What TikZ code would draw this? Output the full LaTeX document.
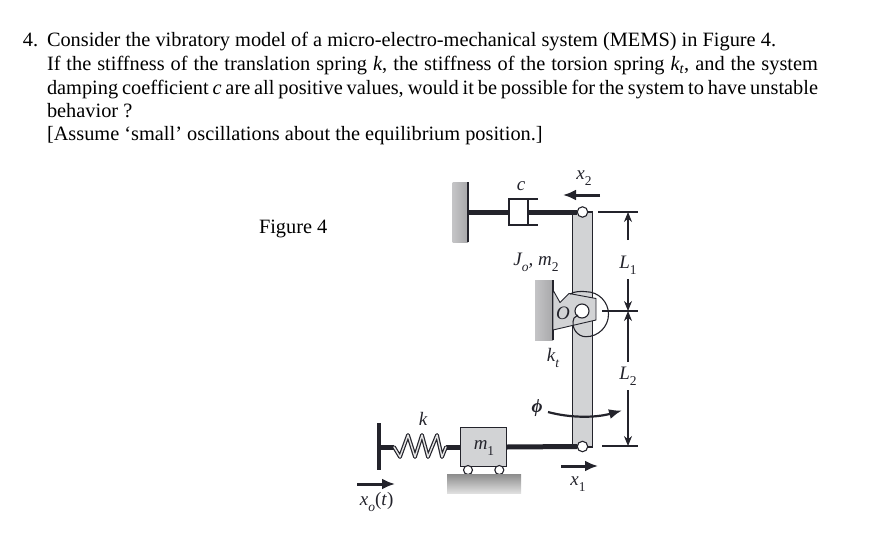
\documentclass[tikz,border=0pt]{standalone}
\usepackage{fontspec}
\setmainfont{Liberation Serif}
\usetikzlibrary{arrows.meta}
\definecolor{barfill}{HTML}{D2D3D5}
\definecolor{ink}{HTML}{23232B}
\definecolor{wallA}{HTML}{C4C4C6}
\definecolor{wallM}{HTML}{DADADC}
\definecolor{wallB}{HTML}{A8A8AA}
\tikzset{
  textline/.style={anchor=base west,inner sep=0pt,outer sep=0pt,font=\fontsize{20.35}{24}\selectfont,text=black},
  figlabel/.style={inner sep=0pt,outer sep=0pt,font=\fontsize{19}{22}\selectfont\itshape,text=ink},
  heavy/.style={line width=5pt,draw=ink},
  thinpart/.style={line width=1.1pt,draw=ink},
  wallshade/.style={left color=wallA,middle color=wallM,right color=wallB,draw=none},
  motion/.style={line width=3pt,draw=ink,-{Latex[length=13pt,width=11pt]}},
  dimline/.style={line width=1.1pt,draw=ink},
  dimarrow/.style={line width=1.1pt,draw=ink,-{Stealth[length=10pt,width=8pt]}},
  pin/.style={circle,draw=ink,line width=1.1pt,fill=white,minimum size=#1,inner sep=0pt,outer sep=0pt},
}
\newcommand{\lo}[1]{\raisebox{-0.3em}{\fontsize{13.5}{14}\selectfont #1}}
\begin{document}
\begin{tikzpicture}[x=1pt,y=-1pt]
\useasboundingbox (0,0) rectangle (886,533);
% question text
\node[textline] (t0) at (23,46.6) {4.};
\node[textline] (t1) at (47,46.6) {Consider the vibratory model of a micro-electro-mechanical system (MEMS) in Figure 4.};
\node[textline] (t2) at (47,70) {\makebox[771pt][s]{If the stiffness of the translation spring \textit{k}, the stiffness of the torsion spring \textit{k\textsubscript{t}}, and the system}};
\node[textline] (t3) at (47,94) {\makebox[771pt][s]{damping coefficient \textit{c} are all positive values, would it be possible for the system to have unstable}};
\node[textline] (t4) at (47,117) {behavior ?};
\node[textline] (t5) at (47,140.7) {[Assume ‘small’ oscillations about the equilibrium position.]};
\node[textline] (fig) at (259,233.5) {Figure 4};
% bar
\path[fill=barfill,draw=ink,line width=1.1pt] (572.7,212) rectangle (592.7,447);
% named points
\coordinate (topwall) at (468,212);
\coordinate (dampL) at (509,212);
\coordinate (dampP) at (528,212);
\coordinate (botwall) at (379,447);
\coordinate (springA) at (394,447);
\coordinate (springB) at (446,447);
% upper wall and damper
\shade[wallshade] (452.7,182) rectangle (468,242);
\draw[line width=1.8pt,draw=ink] (468,182) -- (468,242);
\node[pin=10.5pt] (p2) at (582.5,212) {};
\draw[heavy] (topwall) -- (dampL);
\draw[heavy] (dampP) -- (p2.west);
\draw[thinpart] (538,199) -- (509,199) -- (509,225) -- (538,225);
\draw[thinpart] (528,199) -- (528,225);
% torsion pivot
\shade[wallshade] (535,280) rectangle (553,340);
\draw[line width=1.8pt,draw=ink] (553,280) -- (553,340);
\path[fill=barfill,draw=ink,line width=.9pt] (553,290) -- (560,302.5) -- (569,293.5) -- (596,298.5) -- (596,320) -- (553,330) -- cycle;
\node[pin=14pt] (hub) at (582,311) {};
\draw[line width=1.1pt,draw=ink] (570,294) .. controls (574,291.5) and (581,291) .. (586,291.7)
  arc[start angle=-90,end angle=90,radius=22.5] .. controls (578,337) and (570,328) .. (574,318) -- (578,315);
% lower part
\draw[line width=3.8pt,draw=ink] (379,423) -- (379,470);
\node[pin=10.5pt] (p1) at (582.5,446.5) {};
\path[fill=barfill,draw=ink,line width=1.1pt] (460.7,427.7) rectangle (506.7,466.7);
\node[figlabel] (m1) at (484,448) {m\lo{\textup{1}}};
\coordinate (mL) at (460.7,447);
\coordinate (mR) at (506.7,447);
\draw[heavy] (botwall) -- (springA);
\draw[heavy] (springB) -- (mL);
\draw[heavy] (mR) -- (p1.west);
\foreach \w/\c in {3.8pt/ink,1.4pt/gray!20}
  \draw[line width=\w,draw=\c,line join=round,line cap=round] (springA) -- (400,457) -- (408,435) -- (415,457) -- (422,435) -- (428,457) -- (437,435) -- (442,457) -- (springB);
\node[pin=9pt] (w1) at (468,470) {};
\node[pin=9pt] (w2) at (499.3,470) {};
\shade[top color=gray!90,bottom color=gray!25] (447,474) rectangle (521,493);
% motion arrows
\coordinate (x2a) at (600,195); \coordinate (x2b) at (563,195);
\coordinate (x1a) at (561,466); \coordinate (x1b) at (598,466);
\coordinate (xoa) at (357,484); \coordinate (xob) at (395,484);
\draw[motion] (x2a) -- (x2b);
\draw[motion] (x1a) -- (x1b);
\draw[motion] (xoa) -- (xob);
\coordinate (phia) at (548,412); \coordinate (phib) at (622,410.5);
\draw[line width=2.2pt,draw=ink,-{Latex[length=13pt,width=10pt]}] (phia) .. controls (570,418) and (595,418) .. (phib);
% dimensions
\coordinate (d0a) at (598,212); \coordinate (d0b) at (638,212);
\coordinate (d1a) at (602,311); \coordinate (d1b) at (638,311);
\coordinate (d2a) at (602,446); \coordinate (d2b) at (638,446);
\draw[dimline] (d0a) -- (d0b);
\draw[dimline] (d1a) -- (d1b);
\draw[dimline] (d2a) -- (d2b);
\coordinate (L1top) at (628,212); \coordinate (L1mid) at (628,311); \coordinate (L2bot) at (628,446);
\draw[dimarrow] (628,240) -- (L1top);
\draw[dimarrow] (628,279) -- (L1mid);
\draw[dimarrow] (628,362) -- (L1mid);
\draw[dimarrow] (628,390) -- (L2bot);
% labels
\node[figlabel] (lc) at (521,186) {c};
\node[figlabel] (lx2) at (584,178) {x\lo{\textup{2}}};
\node[figlabel] (lJ) at (536,262) {J\lo{o}, m\lo{\textup{2}}};
\node[figlabel] (lL1) at (628,265) {L\lo{\textup{1}}};
\node[figlabel] (lL2) at (628,376) {L\lo{\textup{2}}};
\node[figlabel] (lO) at (563,313) {O};
\node[figlabel] (lkt) at (553,358) {k\lo{t}};
\node[figlabel] (lphi) at (537,408) {\bfseries ϕ};
\node[figlabel] (lk) at (423,419) {k};
\node[figlabel] (lx1) at (578,484) {x\lo{\textup{1}}};
\node[figlabel] (lxo) at (376.7,501.7) {x\lo{o}\textup{(}t\textup{)}};
\end{tikzpicture}
\end{document}
